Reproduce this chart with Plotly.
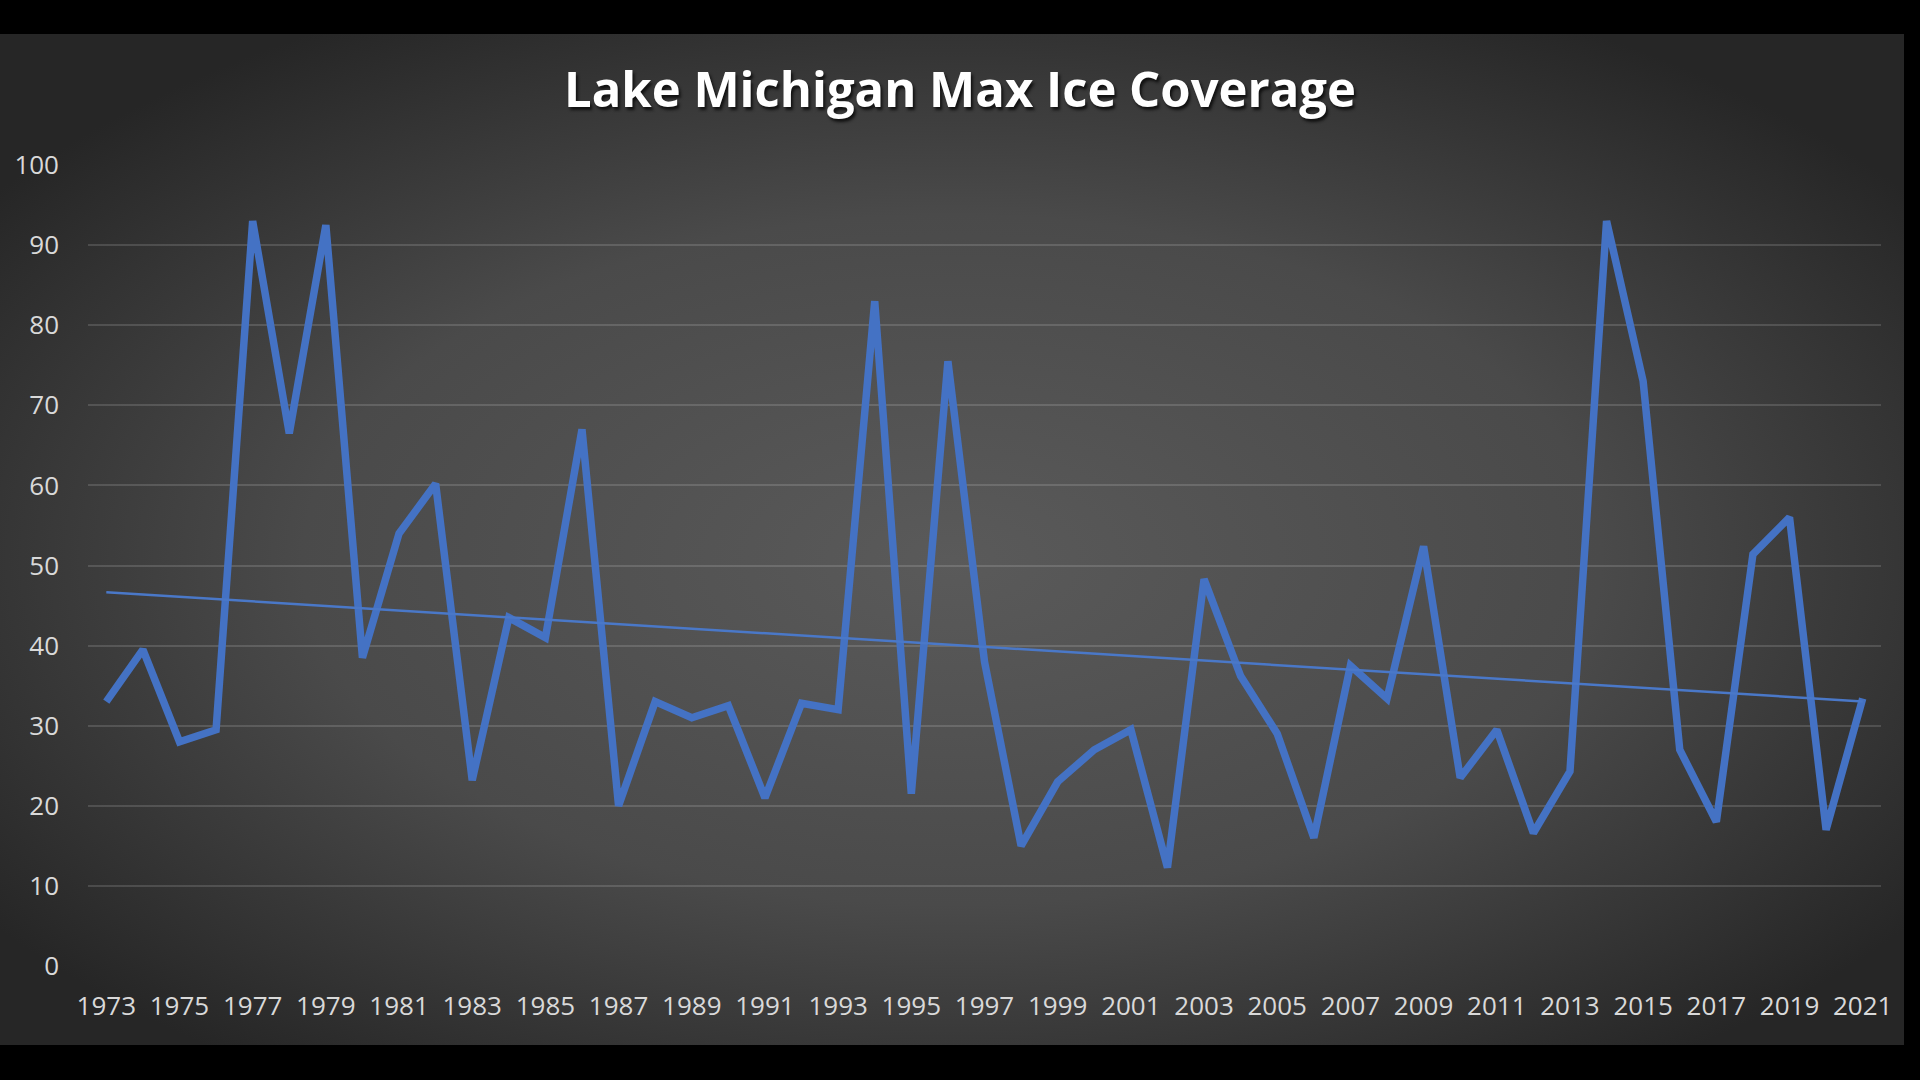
import base64
import numpy as np
import plotly.graph_objects as go

# ---- data ----
years = list(range(1973, 2022))
ice_coverage = [
    33.0, 39.5, 28.0, 29.5, 93.0, 66.5, 92.5, 38.5, 54.0, 60.2,
    23.2, 43.5, 41.0, 67.0, 20.0, 33.0, 31.0, 32.5, 21.0, 32.8,
    32.0, 83.0, 21.5, 75.5, 38.0, 15.0, 23.0, 27.0, 29.5, 12.3,
    48.3, 36.2, 29.0, 16.0, 37.5, 33.4, 52.4, 23.5, 29.5, 16.6,
    24.3, 93.0, 73.0, 27.0, 18.0, 51.4, 56.0, 17.0, 33.4,
]
x_tick_years = list(range(1973, 2022, 2))
y_ticks = list(range(0, 101, 10))
title_text = "Lake Michigan Max Ice Coverage"

# linear trendline (least squares, as the spreadsheet trendline)
coef = np.polyfit(years, ice_coverage, 1)
trend = list(np.polyval(coef, years))

# ---- background: radial gradient panel ----
svg = """<svg xmlns='http://www.w3.org/2000/svg' width='1904' height='1011' preserveAspectRatio='none'>
<defs><radialGradient id='g' cx='50%' cy='52%' r='62%'>
<stop offset='0%' stop-color='#5a5a5a'/>
<stop offset='55%' stop-color='#4a4a4a'/>
<stop offset='100%' stop-color='#262626'/>
</radialGradient></defs>
<rect width='1904' height='1011' fill='url(#g)'/></svg>"""
bg_src = "data:image/svg+xml;base64," + base64.b64encode(svg.encode()).decode()

L, R, T, B = 88, 1881, 165, 966
pw, ph = R - L, B - T
px = lambda v: (v - L) / pw
py = lambda v: (B - v) / ph

fig = go.Figure()
fig.add_trace(go.Scatter(
    x=years, y=ice_coverage, mode="lines",
    line=dict(color="#4472C4", width=7.5, shape="linear"),
    hoverinfo="x+y", showlegend=False,
))
fig.add_trace(go.Scatter(
    x=years, y=trend, mode="lines",
    line=dict(color="#4A78C8", width=2.5),
    hoverinfo="skip", showlegend=False,
))

fig.update_layout(
    width=1920, height=1080, autosize=False,
    margin=dict(l=L, r=1920 - R, t=T, b=1080 - B, pad=0),
    paper_bgcolor="#000000",
    plot_bgcolor="rgba(0,0,0,0)",
    title=dict(
        text=title_text, x=0.5, xref="container", xanchor="center",
        y=1 - 90 / 1080, yref="container", yanchor="middle",
        font=dict(family="Open Sans", size=49, color="#ffffff", weight="bold",
                  shadow="2px 3px 3px #111111"),
    ),
    font=dict(family="Open Sans", color="#d9d9d9"),
    images=[dict(
        source=bg_src, xref="paper", yref="paper",
        x=px(0), y=py(34), sizex=(1904 - 0) / pw, sizey=(1045 - 34) / ph,
        xanchor="left", yanchor="top", sizing="stretch", layer="below",
    )],
    xaxis=dict(
        range=[1972.5, 2021.5], tickvals=x_tick_years,
        ticktext=[str(y) for y in x_tick_years],
        showgrid=False, zeroline=False, showline=False, ticks="",
        tickfont=dict(family="Open Sans", size=26, color="#d9d9d9"),
        ticklabelstandoff=22,
    ),
    yaxis=dict(
        range=[0, 100], tickvals=y_ticks,
        showgrid=True, gridcolor="rgba(255,255,255,0.14)", gridwidth=1.5,
        zeroline=False, showline=False, ticks="",
        tickfont=dict(family="Open Sans", size=26, color="#d9d9d9"),
        ticklabelstandoff=28,
    ),
)

fig.write_html("out.html")
